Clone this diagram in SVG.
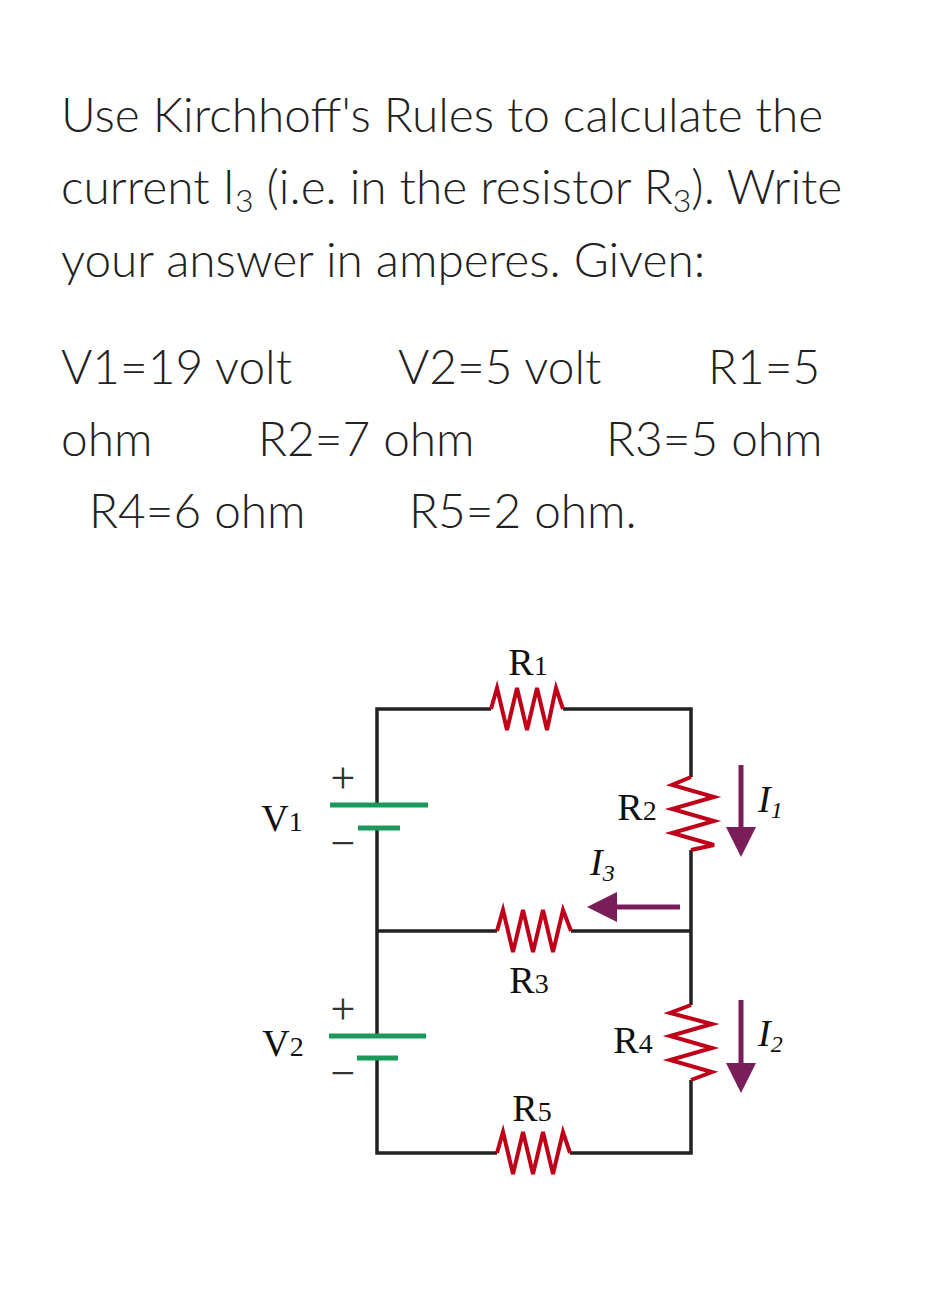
<svg xmlns="http://www.w3.org/2000/svg" width="936" height="1315" viewBox="0 0 936 1315">
<style>
.q{font-family:Lato,"Open Sans",sans-serif;font-size:47.8px;font-weight:300;fill:#222}
.w{fill:none;stroke:#222;stroke-width:3.5}
.r{fill:none;stroke:#c00018;stroke-width:4;stroke-linejoin:miter}
.b{stroke:#1a9a5a;stroke-width:5}
.l{font-family:"Liberation Serif","DejaVu Serif",serif;font-size:38px;fill:#111}
.s{font-family:"Liberation Serif",serif;font-size:44px;fill:#333}
.a{stroke:#7a1e5a;stroke-width:5}
</style>
<defs><marker id="ah" markerWidth="6" markerHeight="6" refX="1" refY="3" orient="auto" markerUnits="strokeWidth"><path d="M0,0 L6,3 L0,6 z" fill="#7a1e5a"/></marker></defs>
<rect width="936" height="1315" fill="#fff"/>
<g id="question">
<text class="q" x="61" y="132">Use Kirchhoff's Rules to calculate the</text>
<text class="q" x="61" y="204">current I<tspan font-size="32" dy="8">3</tspan><tspan dy="-8"> (i.e. in the resistor R</tspan><tspan font-size="32" dy="8">3</tspan><tspan dy="-8">). Write</tspan></text>
<text class="q" x="61" y="277">your answer in amperes. Given:</text>
<text class="q" y="384"><tspan x="61">V1=19 volt</tspan><tspan x="398">V2=5 volt</tspan><tspan x="708">R1=5</tspan></text>
<text class="q" y="456"><tspan x="61">ohm</tspan><tspan x="258">R2=7 ohm</tspan><tspan x="606">R3=5 ohm</tspan></text>
<text class="q" y="528"><tspan x="89">R4=6 ohm</tspan><tspan x="409">R5=2 ohm.</tspan></text>
</g>
<g id="connectors">
<path class="w" d="M377,805 V709 H491 M563,709 H691 V777 M691,850 V1005 M691,1080 V1153 H570 M497,1153 H377 V1058 M377,1036 V828 M377,931 H497 M571,931 H691"/>
</g>
<g id="R1"><polyline class="r" points="491,709 497,688 507,730 517,688 527,730 537,688 547,730 556,688 563,709"/><text class="l" x="528" y="675" text-anchor="middle">R<tspan font-size="28">1</tspan></text></g>
<g id="R2"><polyline class="r" points="691,777 672,785 714,797 672,809 714,821 672,833 714,845 691,850"/><text class="l" x="637" y="820" text-anchor="middle">R<tspan font-size="28">2</tspan></text></g>
<g id="R3"><polyline class="r" points="497,931 503,910 513,952 523,910 533,952 543,910 553,952 563,910 571,931"/><text class="l" x="529" y="993" text-anchor="middle">R<tspan font-size="28">3</tspan></text></g>
<g id="R4"><polyline class="r" points="691,1005 670,1013 712,1024 670,1036 712,1048 670,1060 712,1072 691,1080"/><text class="l" x="633" y="1053" text-anchor="middle">R<tspan font-size="28">4</tspan></text></g>
<g id="R5"><polyline class="r" points="497,1153 503,1132 513,1174 523,1132 533,1174 543,1132 553,1174 563,1132 570,1153"/><text class="l" x="532" y="1121" text-anchor="middle">R<tspan font-size="28">5</tspan></text></g>
<g id="V1"><line class="b" x1="330" y1="805" x2="428" y2="805"/><line class="b" x1="358" y1="828" x2="400" y2="828"/><text class="s" x="343" y="793" text-anchor="middle">+</text><text class="s" x="343" y="858" text-anchor="middle">−</text><text class="l" x="282" y="831" text-anchor="middle">V<tspan font-size="28">1</tspan></text></g>
<g id="V2"><line class="b" x1="329" y1="1036" x2="426" y2="1036"/><line class="b" x1="357" y1="1058" x2="398" y2="1058"/><text class="s" x="343" y="1024" text-anchor="middle">+</text><text class="s" x="343" y="1088" text-anchor="middle">−</text><text class="l" x="283" y="1056" text-anchor="middle">V<tspan font-size="28">2</tspan></text></g>
<g id="I1"><line class="a" x1="741" y1="765" x2="741" y2="832" marker-end="url(#ah)"/><text class="l" x="758" y="812" font-style="italic">I<tspan font-size="24" dy="6">1</tspan></text></g>
<g id="I2"><line class="a" x1="741" y1="1000" x2="741" y2="1068" marker-end="url(#ah)"/><text class="l" x="758" y="1046" font-style="italic">I<tspan font-size="24" dy="6">2</tspan></text></g>
<g id="I3"><line class="a" x1="680" y1="907" x2="612" y2="907" marker-end="url(#ah)"/><text class="l" x="590" y="875" font-style="italic">I<tspan font-size="24" dy="6">3</tspan></text></g>
</svg>
